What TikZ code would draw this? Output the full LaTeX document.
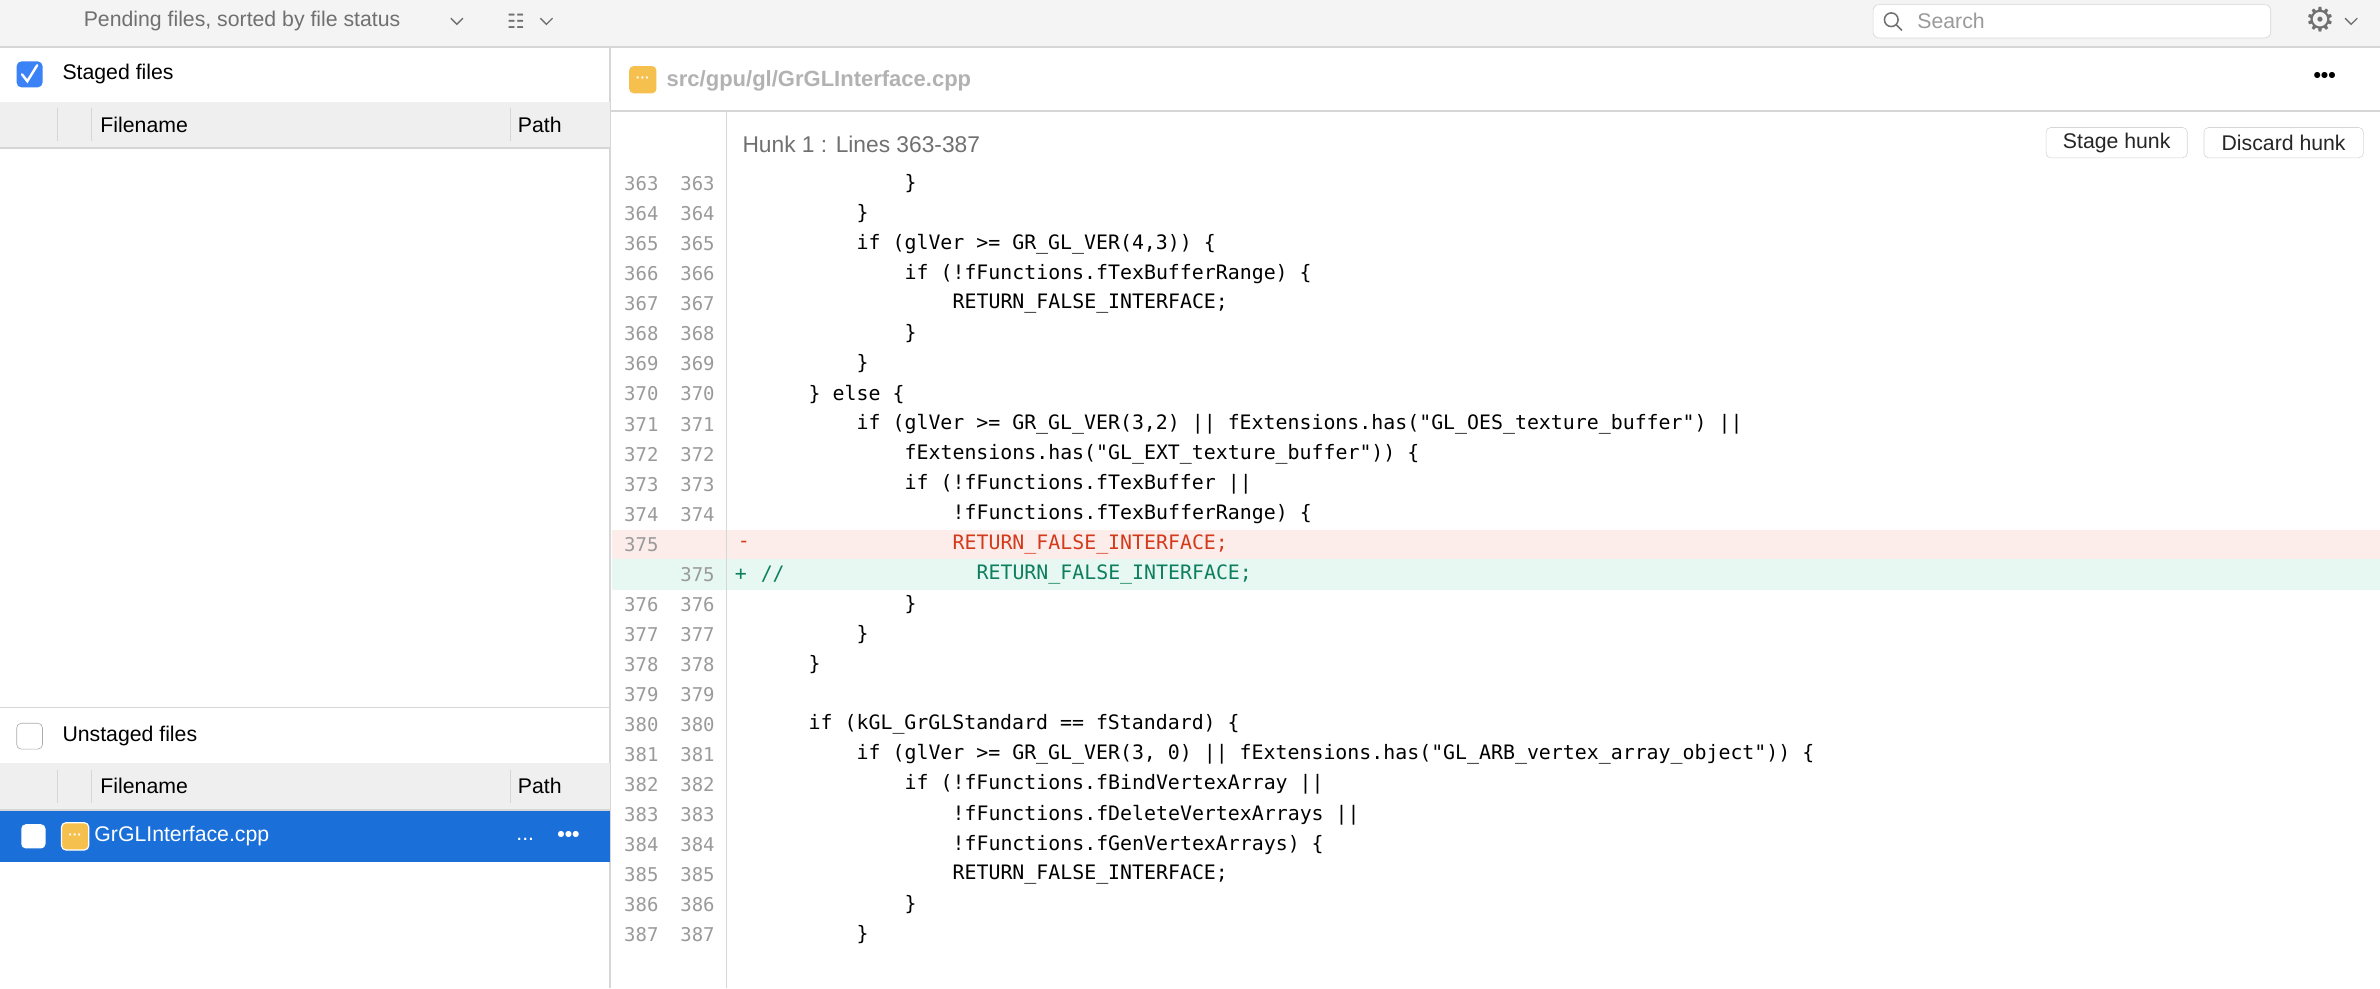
\documentclass[tikz,border=0pt]{standalone}
\usepackage{fontspec}
\setmainfont{Liberation Sans}
\newfontfamily\mono{DejaVu Sans Mono}
\newfontfamily\dv{DejaVu Sans}
\definecolor{topbg}{HTML}{F4F4F4}
\definecolor{hdrbg}{HTML}{EFEFEF}
\definecolor{linec}{HTML}{D6D6D6}
\definecolor{selblue}{HTML}{1A6FD9}
\definecolor{chkblue}{HTML}{3B82F6}
\definecolor{icony}{HTML}{F5C04E}
\definecolor{numgray}{HTML}{9A9A9A}
\definecolor{txtgray}{HTML}{707070}
\definecolor{redbg}{HTML}{FDEDEA}
\definecolor{redtx}{HTML}{D33A1C}
\definecolor{grnbg}{HTML}{E6F8F1}
\definecolor{grntx}{HTML}{0E7F5E}
\tikzset{
  code/.style={anchor=west,inner sep=0pt,font=\mono\fontsize{13.1}{15}\selectfont},
  lnum/.style={anchor=east,inner sep=0pt,text=numgray,font=\mono\fontsize{12.5}{15}\selectfont},
  ui/.style={anchor=west,inner sep=0pt,font=\fontsize{14}{16}\selectfont},
  sep/.style={draw=linec,line width=1pt},
  btn/.style={draw=linec,rounded corners=3pt,fill=white,inner sep=0pt,minimum height=20pt,font=\fontsize{14}{16}\selectfont,text=black!85},
  yicon/.style={fill=icony,rounded corners=3pt,minimum size=18pt,inner sep=0pt,text=white,font=\bfseries\fontsize{9}{9}\selectfont}
}
\newcommand\cl[5]{%
  \node[code] (c#1) at ({501+7.9*#4},{-121-19.8*#1}) {#5};
  \node[lnum] (l#1) at (434,{-121-19.8*#1}) {#2};
  \node[lnum] (r#1) at (471,{-121-19.8*#1}) {#3};}
\begin{document}
\begin{tikzpicture}[x=1pt,y=1pt]
\useasboundingbox (0,0) rectangle (1568,-651);
\fill[white] (0,0) rectangle (1568,-651);
% top bar
\fill[topbg] (0,0) rectangle (1568,-31);
\draw[sep] (0,-31) -- (1568,-31);
\node[ui,text=txtgray] (title) at (55,-14) {Pending files, sorted by file status};
\draw[txtgray,line width=0.9pt] (297,-12) -- (301,-16) -- (305,-12);
\node[inner sep=0pt,text=txtgray,font=\dv\fontsize{13}{14}\selectfont] (listic) at (340,-14) {☷};
\draw[txtgray,line width=0.9pt] (356,-12) -- (360,-16) -- (364,-12);
\node[draw=linec,fill=white,rounded corners=4pt,minimum width=262pt,minimum height=22pt,inner sep=0pt] (search) at (1365,-14) {};
\draw[txtgray,line width=1pt] (1246,-13) circle (4.5pt) (1249.3,-16.3) -- (1253,-20);
\node[ui,text=numgray] (stext) at (1263,-14) {Search};
\node[inner sep=0pt,text=txtgray,font=\dv\fontsize{22}{22}\selectfont] (gear) at (1529,-13) {⚙};
\draw[txtgray,line width=0.9pt] (1545,-12) -- (1549,-16) -- (1553,-12);
% left panel
\draw[sep] (402,-31) -- (402,-651);
\node[fill=chkblue,rounded corners=3pt,minimum size=17pt,inner sep=0pt] (chk1) at (19.5,-49) {};
\draw[white,line width=1.6pt,line cap=round] (14.5,-49) -- (18,-53.5) -- (24.5,-43);
\node[ui] (staged) at (41,-49) {Staged files};
\fill[hdrbg] (0,-67) rectangle (402,-97);
\draw[sep] (0,-97.5) -- (402,-97.5);
\foreach \xx in {38,60,336} \draw[linec] (\xx,-71) -- (\xx,-93);
\node[ui] (fn1) at (66,-82) {Filename};
\node[ui] (path1) at (341,-82) {Path};
\draw[sep] (0,-466) -- (402,-466);
\node[draw=linec!80!black,fill=white,rounded corners=3pt,minimum size=17pt,inner sep=0pt] (chk2) at (19.5,-485) {};
\node[ui] (unstaged) at (41,-485) {Unstaged files};
\fill[hdrbg] (0,-503) rectangle (402,-533);
\draw[sep] (0,-533.5) -- (402,-533.5);
\foreach \xx in {38,60,336} \draw[linec] (\xx,-507) -- (\xx,-529);
\node[ui] (fn2) at (66,-518) {Filename};
\node[ui] (path2) at (341,-518) {Path};
\fill[selblue] (0,-534) rectangle (402,-568);
\node[fill=white,rounded corners=3pt,minimum size=16pt,inner sep=0pt] (chk3) at (22,-551) {};
\node[yicon,draw=white,line width=0.8pt] (ic1) at (49.5,-551) {···};
\node[ui,text=white] (fname) at (62,-551) {GrGLInterface.cpp};
\node[ui,text=white] (dots1) at (340,-553) {...};
\node[ui,text=white,font=\bfseries\fontsize{14}{16}\selectfont] (dots2) at (367,-551) {•••};
% right header
\node[yicon] (ic2) at (423.5,-52.5) {···};
\node[ui,text=black!30,font=\bfseries\fontsize{14.5}{16}\selectfont] (path) at (439,-53) {src/gpu/gl/GrGLInterface.cpp};
\node[ui,font=\bfseries\fontsize{14}{16}\selectfont] (dots3) at (1524,-51) {•••};
\draw[sep] (402,-73) -- (1568,-73);
% diff bgs
\fill[redbg] (403,-349) rectangle (1568,-368.5);
\fill[grnbg] (403,-368.5) rectangle (1568,-388.5);
\draw[sep] (478.5,-73) -- (478.5,-651);
\node[ui,text=txtgray,font=\fontsize{15}{17}\selectfont] (hunk) at (489,-95) {Hunk 1 : Lines 363-387};
\node[btn,minimum width=93pt] (stage) at (1394.5,-94) {Stage hunk};
\node[btn,minimum width=105pt] (discard) at (1504.5,-94) {Discard hunk};
% code
\cl{0}{363}{363}{12}{\}}
\cl{1}{364}{364}{8}{\}}
\cl{2}{365}{365}{8}{if (glVer >= GR\_GL\_VER(4,3)) \{}
\cl{3}{366}{366}{12}{if (!fFunctions.fTexBufferRange) \{}
\cl{4}{367}{367}{16}{RETURN\_FALSE\_INTERFACE;}
\cl{5}{368}{368}{12}{\}}
\cl{6}{369}{369}{8}{\}}
\cl{7}{370}{370}{4}{\} else \{}
\cl{8}{371}{371}{8}{if (glVer >= GR\_GL\_VER(3,2) || fExtensions.has("GL\_OES\_texture\_buffer") ||}
\cl{9}{372}{372}{12}{fExtensions.has("GL\_EXT\_texture\_buffer")) \{}
\cl{10}{373}{373}{12}{if (!fFunctions.fTexBuffer ||}
\cl{11}{374}{374}{16}{!fFunctions.fTexBufferRange) \{}
\cl{12}{375}{}{16}{\textcolor{redtx}{RETURN\_FALSE\_INTERFACE;}}
\node[code,text=redtx] (minus) at (486,{-121-19.8*12}) {-};
\cl{13}{}{375}{18}{\textcolor{grntx}{RETURN\_FALSE\_INTERFACE;}}
\node[code,text=grntx] (plus) at (484,{-121-19.8*13}) {+};
\node[code,text=grntx] (slash) at (501,{-121-19.8*13}) {//};
\cl{14}{376}{376}{12}{\}}
\cl{15}{377}{377}{8}{\}}
\cl{16}{378}{378}{4}{\}}
\cl{17}{379}{379}{4}{}
\cl{18}{380}{380}{4}{if (kGL\_GrGLStandard == fStandard) \{}
\cl{19}{381}{381}{8}{if (glVer >= GR\_GL\_VER(3, 0) || fExtensions.has("GL\_ARB\_vertex\_array\_object")) \{}
\cl{20}{382}{382}{12}{if (!fFunctions.fBindVertexArray ||}
\cl{21}{383}{383}{16}{!fFunctions.fDeleteVertexArrays ||}
\cl{22}{384}{384}{16}{!fFunctions.fGenVertexArrays) \{}
\cl{23}{385}{385}{16}{RETURN\_FALSE\_INTERFACE;}
\cl{24}{386}{386}{12}{\}}
\cl{25}{387}{387}{8}{\}}
\end{tikzpicture}
\end{document}
